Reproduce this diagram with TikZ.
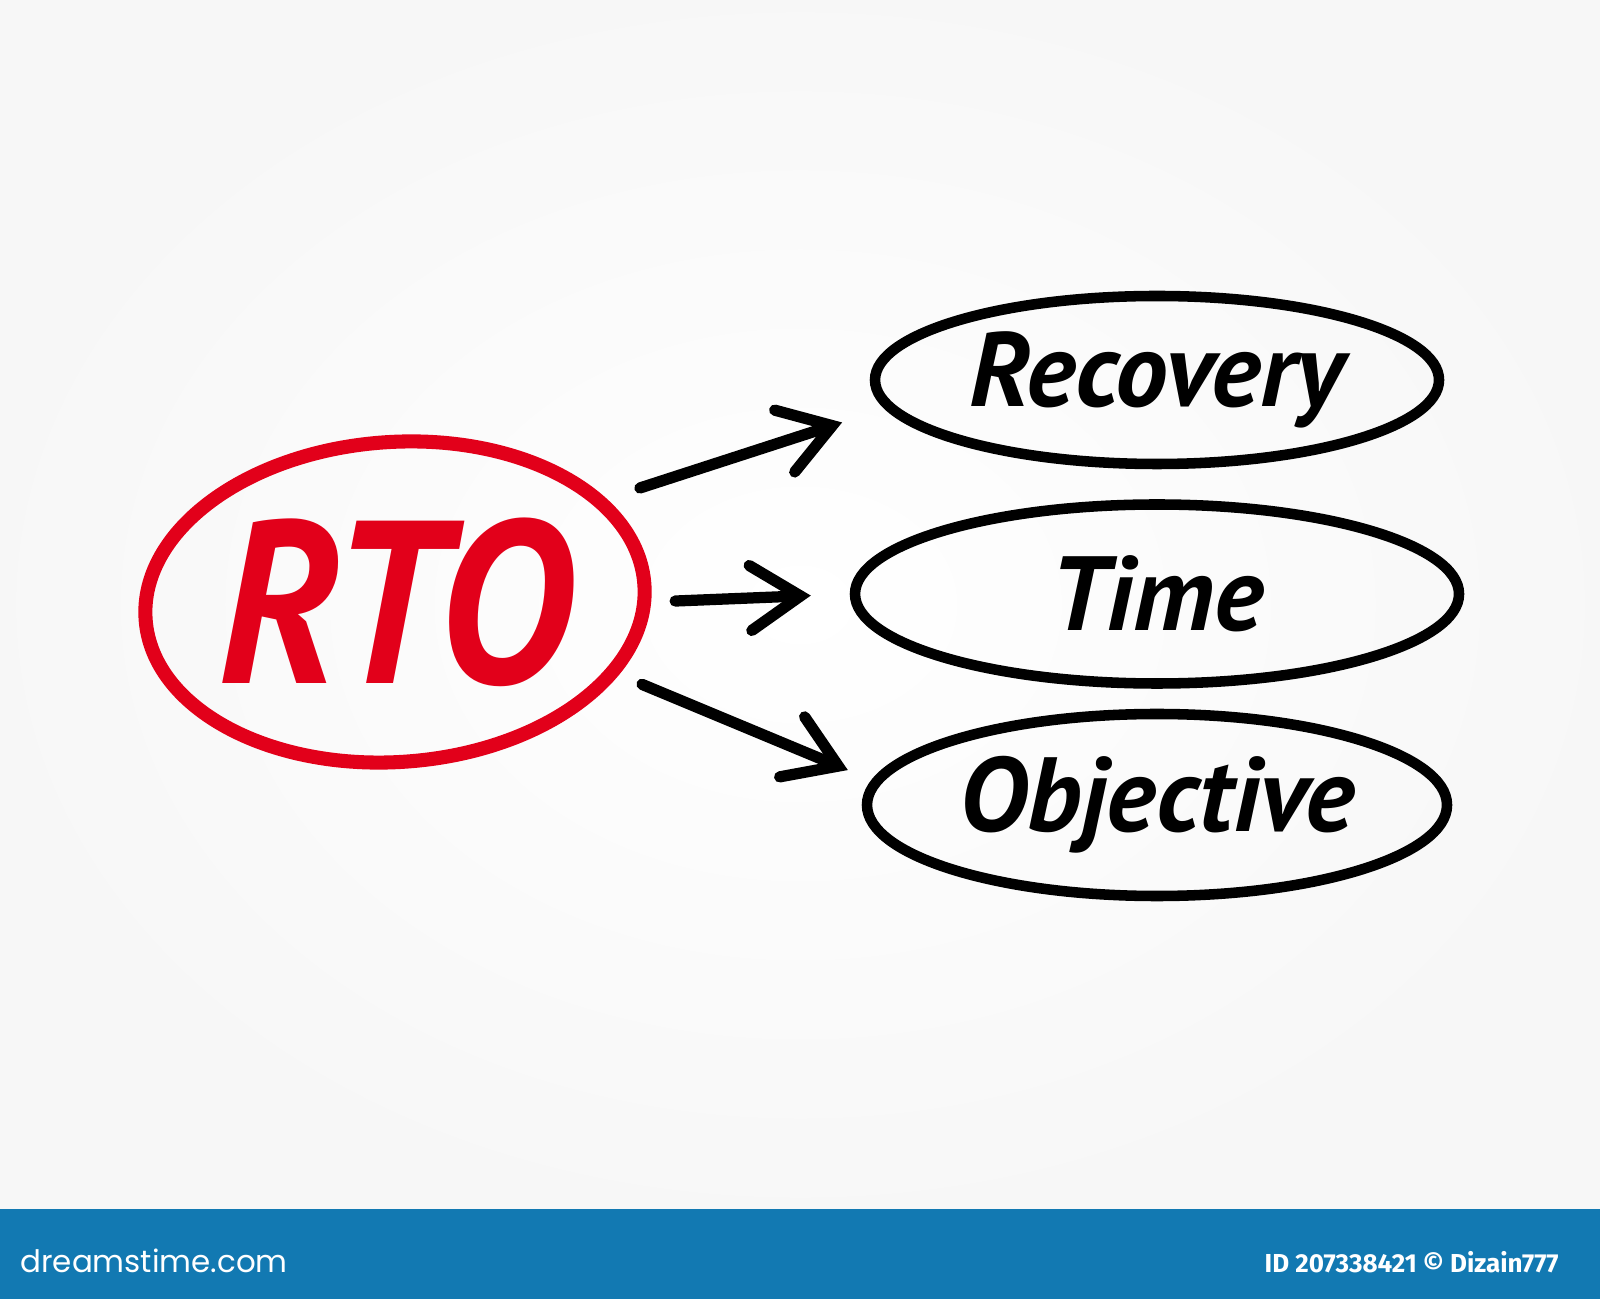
\documentclass[tikz,border=0pt]{standalone}
\usepackage{fontspec}
\usepackage{graphicx}
\setmainfont{PT Sans}
\newfontfamily\bannerfont{Poppins}
\newfontfamily\idfont{Fira Sans}
\usetikzlibrary{shapes.geometric,arrows.meta}
\definecolor{rtored}{RGB}{226,0,26}
\definecolor{bannerblue}{RGB}{18,121,178}

\begin{document}
\begin{tikzpicture}[
  oval/.style={ellipse,draw=black,line width=3pt,inner sep=0pt},
  wordfont/.style={font=\fontsize{30}{30}\selectfont\bfseries\itshape},
  pointer/.style={line width=3.2pt,line cap=round,
    -{Straight Barb[length=5mm,width=6.5mm,line cap=round]}}
]
  \useasboundingbox (0,0) rectangle (16,12.99);
  \shade[inner color=white,outer color=gray!6] (0,0.9) rectangle (16,12.99);
  \fill[bannerblue] (0,0) rectangle (16,0.9);

  \node[ellipse,draw=rtored,line width=4pt,inner sep=0pt,
    minimum width=5.0cm,minimum height=3.2cm,rotate=4,
    label={[text=rtored,font=\fontsize{66}{66}\selectfont\bfseries\itshape]center:\scalebox{0.9}[1]{RTO}}]
    (rto) at (3.95,6.97) {};

  \node[oval,minimum width=5.64cm,minimum height=1.68cm,
    label={[wordfont]center:Recovery}] (rec) at (11.57,9.19) {};
  \node[oval,minimum width=6.04cm,minimum height=1.79cm,
    label={[wordfont]center:Time}] (time) at (11.57,7.05) {};
  \node[oval,minimum width=5.80cm,minimum height=1.82cm,
    label={[wordfont]center:Objective}] (obj) at (11.57,4.94) {};

  \draw[pointer,shorten <=3.5mm,shorten >=4.5mm] (rto.22) -- (rec.186);
  \draw[pointer,shorten <=2.4mm,shorten >=3.9mm] (rto.-4) -- (time.west);
  \draw[pointer,shorten <=2.5mm,shorten >=2.6mm] (rto.-22) -- (obj.175);

  \node[anchor=base west,text=white,font=\bannerfont\fontsize{8.8}{8.8}\selectfont]
    (site) at (0.08,0.27) {dreamstime.com};
  \node[anchor=base east,text=white,font=\idfont\bfseries\fontsize{7.4}{7.4}\selectfont]
    (stockid) at (15.71,0.27) {ID 207338421 © Dizain777};
\end{tikzpicture}
\end{document}
